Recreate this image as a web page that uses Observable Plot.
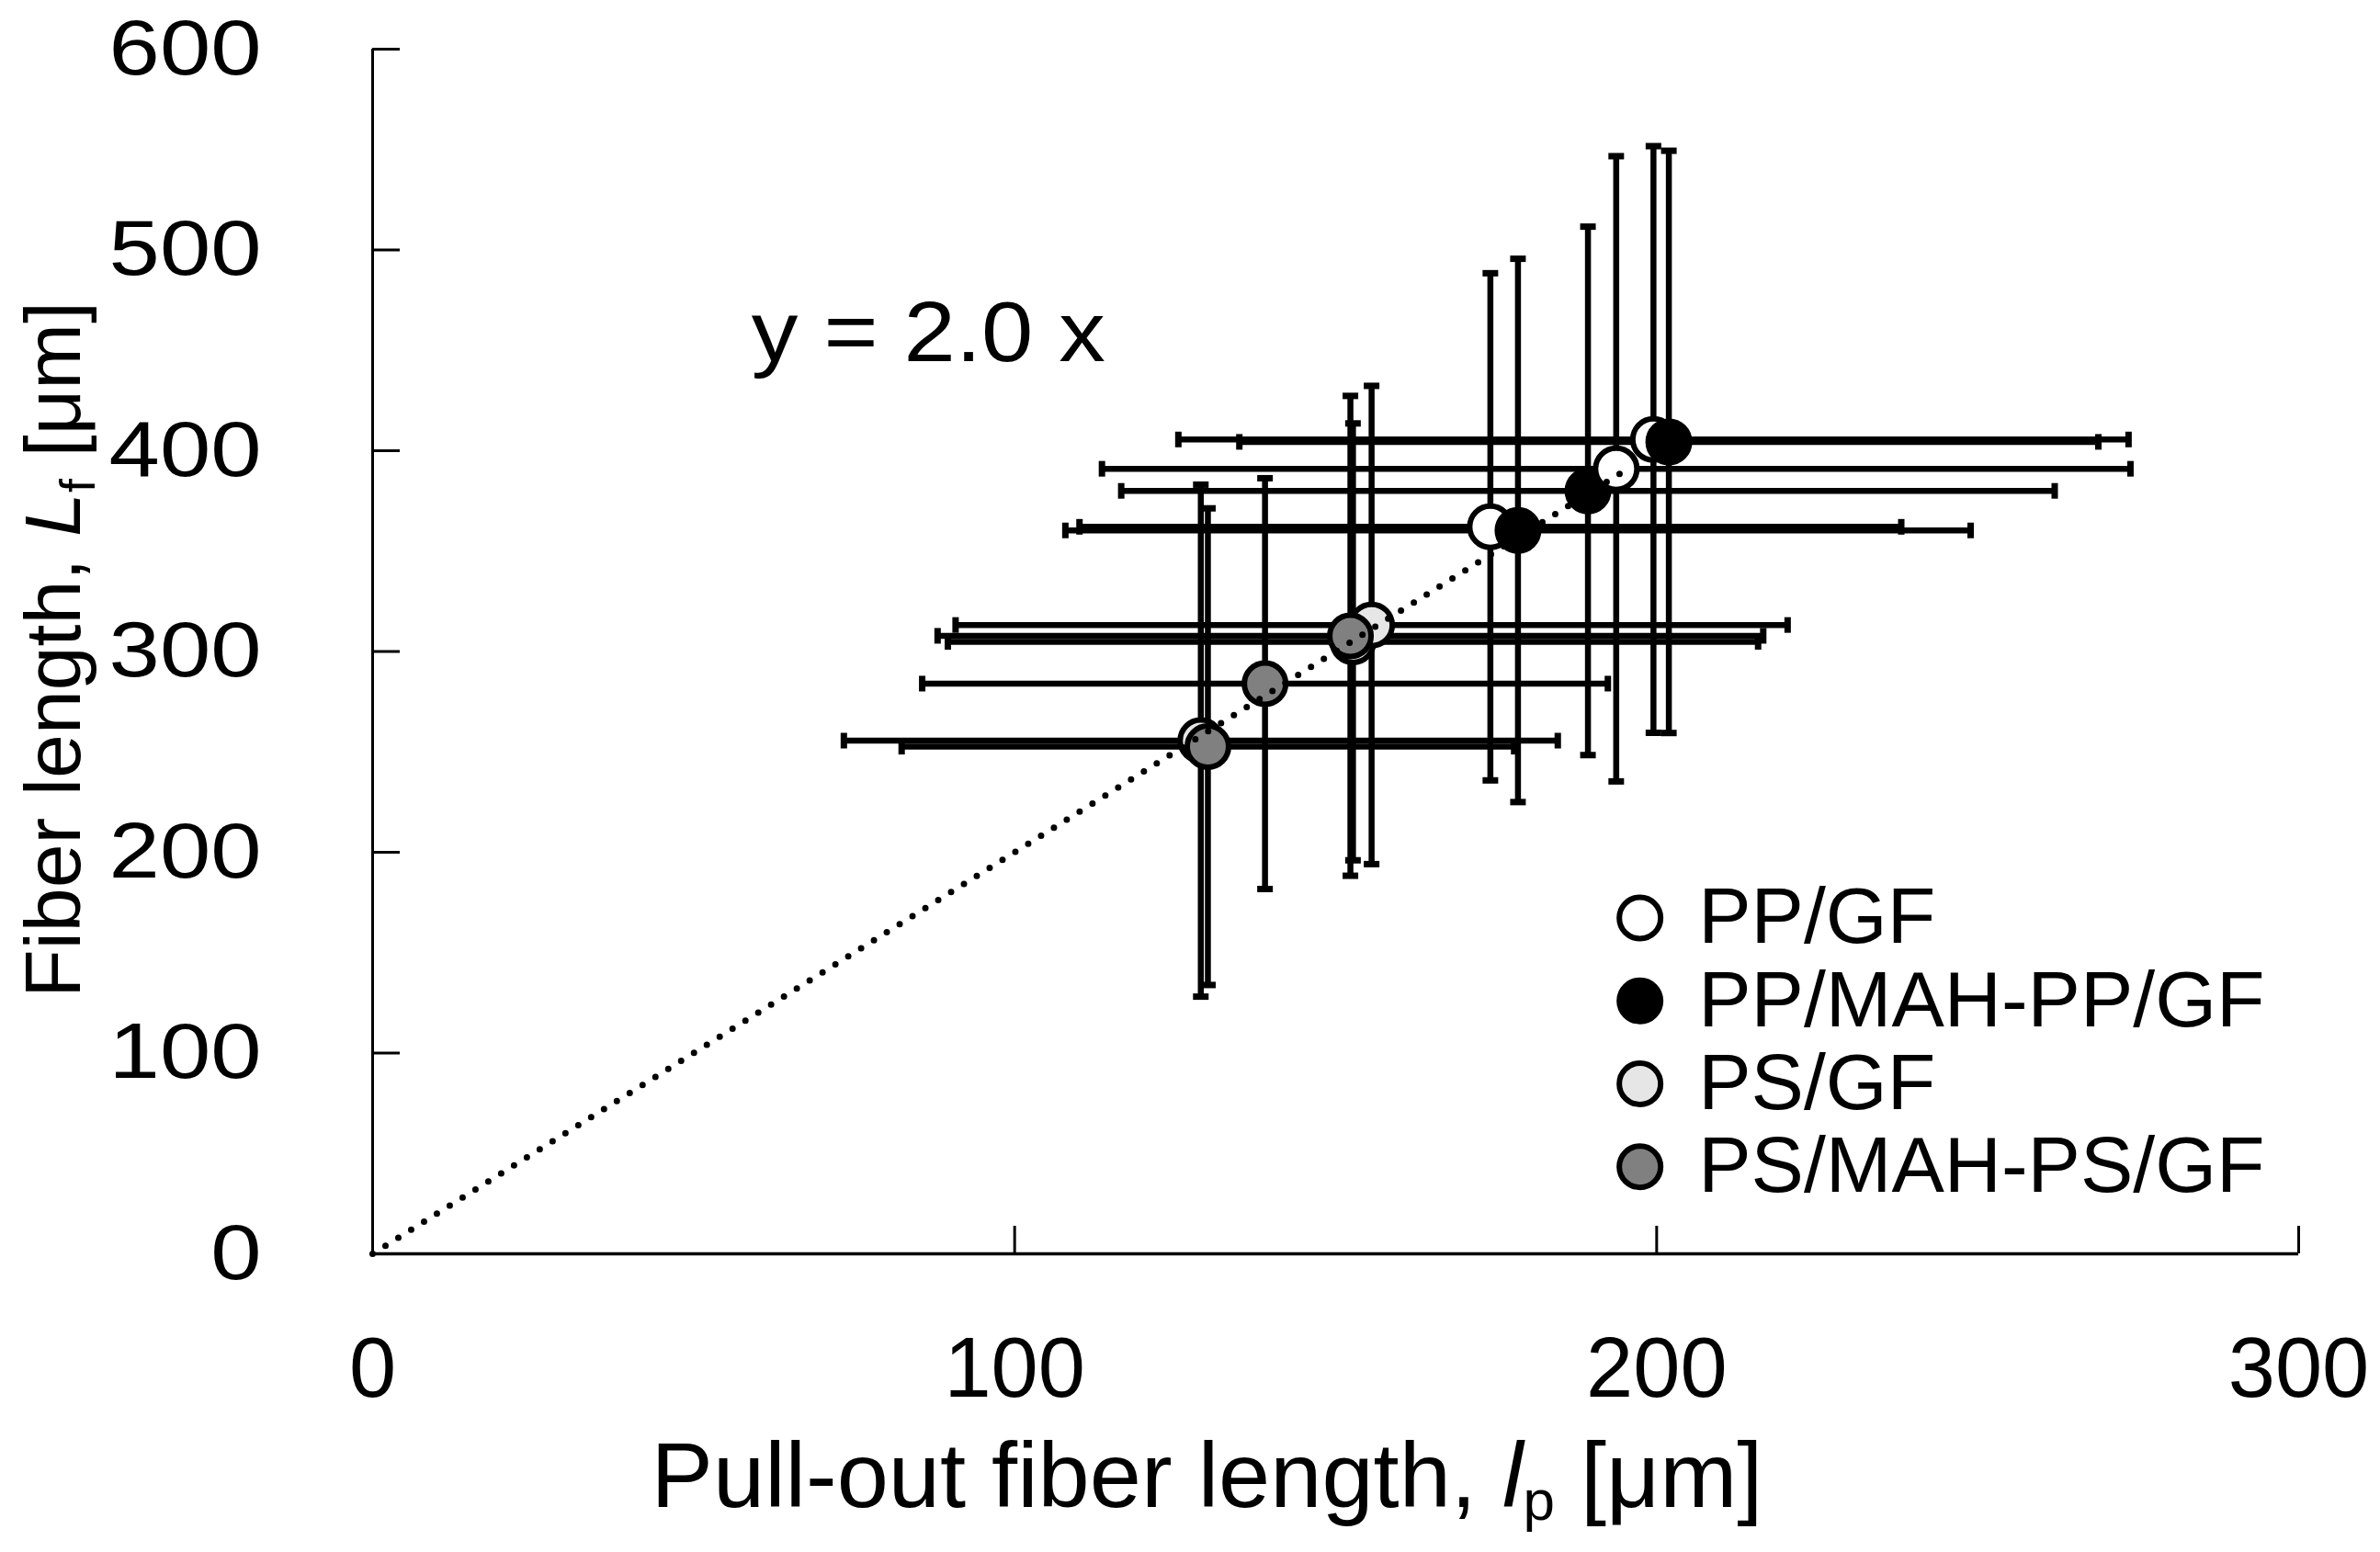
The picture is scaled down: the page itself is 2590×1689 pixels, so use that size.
<!DOCTYPE html>
<html><head><meta charset="utf-8">
<script src="https://cdn.jsdelivr.net/npm/d3@7"></script>
<script src="https://cdn.jsdelivr.net/npm/@observablehq/plot@0.6"></script>
<style>html,body{margin:0;padding:0;background:#fff;} svg{display:block}</style>
</head><body><div id="chart"></div>
<script>
// ---------- data ----------
const seriesNames = ["PP/GF", "PP/MAH-PP/GF", "PS/GF", "PS/MAH-PS/GF"];
const seriesFill  = ["#ffffff", "#000000", "#e6e6e6", "#808080"];

const ppgfX  = [174.1, 193.7, 199.5];
const ppgfY  = [362.1, 391.0, 405.6];
const ppgfXe = [64.0, 80.1, 74.0];
const ppgfYe = [126.3, 155.7, 146.1];

const ppmahX  = [178.4, 189.3, 201.9];
const ppmahY  = [360.3, 380.0, 404.4];
const ppmahXe = [70.5, 72.7, 66.9];
const ppmahYe = [135.3, 131.6, 145.0];

const psgfX  = [129.0, 152.7, 155.6];
const psgfY  = [255.6, 304.8, 313.2];
const psgfXe = [55.6, 63.1, 64.8];
const psgfYe = [127.5, 108.8, 119.1];

const psmahX  = [130.1, 139.0, 152.3];
const psmahY  = [252.6, 284.0, 307.8];
const psmahXe = [47.7, 53.4, 64.3];
const psmahYe = [118.7, 102.3, 119.5];

const xTicks = [0, 100, 200, 300];
const yTicks = [0, 100, 200, 300, 400, 500, 600];
const trendX = [0, 196];
const trendY = [0, 392];
const equationText = "y = 2.0 x";
const xTitle = "Pull-out fiber length, lp [μm]";
const yTitle = "Fiber length, Lf [μm]";

// drawing order of the markers: [series, point]
const drawOrder = [[2,0],[2,1],[2,2],[3,0],[3,1],[3,2],[0,0],[1,0],[1,1],[0,1],[0,2],[1,2]];

// ---------- build tables ----------
const cols = [
  [ppgfX, ppgfY, ppgfXe, ppgfYe],
  [ppmahX, ppmahY, ppmahXe, ppmahYe],
  [psgfX, psgfY, psgfXe, psgfYe],
  [psmahX, psmahY, psmahXe, psmahYe]
];
const points = drawOrder.map(([s, i]) => ({
  series: seriesNames[s], fill: seriesFill[s],
  x: cols[s][0][i], y: cols[s][1][i], xe: cols[s][2][i], ye: cols[s][3][i]
}));
const vCaps = points.flatMap(d => [{x: d.x, y: d.y - d.ye}, {x: d.x, y: d.y + d.ye}]);
const hCaps = points.flatMap(d => [{x: d.x - d.xe, y: d.y}, {x: d.x + d.xe, y: d.y}]);
const trend = trendX.map((x, i) => ({x, y: trendY[i]}));
const legend = seriesNames.map((name, i) => ({name, fill: seriesFill[i], i}));

// legend / annotation placement (in data units)
const legendDotX = 197.4, legendTextX = 206.5, legendTopY = 167.3, legendStepY = 41.3;
const eqX = 59, eqY = 458;

const hSeg = {draw(ctx, size) { const r = Math.sqrt(size / Math.PI); ctx.moveTo(-r, 0); ctx.lineTo(r, 0); }};
const vSeg = {draw(ctx, size) { const r = Math.sqrt(size / Math.PI); ctx.moveTo(0, -r); ctx.lineTo(0, r); }};

const chart = Plot.plot({
  width: 2590, height: 1689,
  marginLeft: 405, marginRight: 89, marginTop: 53, marginBottom: 325,
  x: {domain: [0, 300]},
  y: {domain: [0, 600]},
  color: {type: "identity"},
  style: {fontFamily: "'Liberation Sans', Arial, sans-serif", background: "#fff", color: "#000"},
  marks: [
    // axis lines
    Plot.ruleX([0], {stroke: "#000", strokeWidth: 3}),
    Plot.ruleY([0], {stroke: "#000", strokeWidth: 3.5}),
    // inward ticks
    Plot.axisX({ticks: xTicks, tickSize: 30, dy: -30, tickFormat: () => "", label: null, strokeWidth: 3}),
    Plot.axisY({ticks: yTicks, tickSize: 30, dx: 30, tickFormat: () => "", label: null, strokeWidth: 3}),
    // tick labels
    Plot.axisX({ticks: xTicks, tickSize: 0, tickPadding: 90, fontSize: 92, label: null}),
    Plot.axisY({ticks: yTicks, tickSize: 0, tickPadding: 121, fontSize: 85, label: null}),
    // error bars
    Plot.ruleX(points, {x: "x", y1: d => d.y - d.ye, y2: d => d.y + d.ye, stroke: "#000", strokeWidth: 6.5}),
    Plot.ruleY(points, {y: "y", x1: d => d.x - d.xe, x2: d => d.x + d.xe, stroke: "#000", strokeWidth: 6.5}),
    Plot.dot(vCaps, {x: "x", y: "y", symbol: hSeg, r: 8.5, stroke: "#000", strokeWidth: 7, fill: "none"}),
    Plot.dot(hCaps, {x: "x", y: "y", symbol: vSeg, r: 8.5, stroke: "#000", strokeWidth: 7, fill: "none"}),
    // markers
    Plot.dot(points, {x: "x", y: "y", r: 22.5, fill: "fill", stroke: "#000", strokeWidth: 6}),
    // trend line y = 2.0 x
    Plot.line(trend, {x: "x", y: "y", stroke: "#000", strokeWidth: 7, strokeDasharray: "0 16.5", strokeLinecap: "round"}),
    Plot.text([equationText], {text: d => d, x: eqX, y: eqY, textAnchor: "start", fontSize: 92}),
    // legend
    Plot.dot(legend, {x: () => legendDotX, y: d => legendTopY - d.i * legendStepY, r: 22.5, fill: "fill", stroke: "#000", strokeWidth: 6}),
    Plot.text(legend, {x: () => legendTextX, y: d => legendTopY - d.i * legendStepY, text: "name", textAnchor: "start", fontSize: 86}),
    // axis titles
    Plot.text([xTitle], {text: d => d, frameAnchor: "bottom", textAnchor: "middle", dx: -140, dy: 204, lineAnchor: "top", fontSize: 101}),
    Plot.text([yTitle], {text: d => d, frameAnchor: "left", textAnchor: "middle", dx: -380, dy: -2, rotate: -90, lineAnchor: "top", fontSize: 86})
  ]
});
document.getElementById("chart").appendChild(chart);

// ---------- text styling ----------
const svg = d3.select(chart);
const byText = s => svg.selectAll("text").filter(function() { return this.textContent === s; });
function stretch(sel, sx) {
  sel.each(function() {
    const t = this.getAttribute("transform") || "";
    this.setAttribute("transform", t + ` scale(${sx},1)`);
  });
}
stretch(svg.selectAll('g[aria-label="y-axis tick label"] text'), 1.17);
stretch(byText(equationText), 1.1);

function rich(str, parts, subSize, shift) {
  const t = byText(str);
  t.text(null);
  parts.forEach(p => {
    const ts = t.append("tspan").text(p.text);
    if (p.italic) ts.attr("font-style", "italic");
    if (p.sub) ts.attr("font-size", subSize).attr("dy", shift);
    if (p.back) ts.attr("dy", -shift);
  });
}
rich(xTitle, [{text: "Pull-out fiber length, "}, {text: "l", italic: true}, {text: "p", sub: true}, {text: " [μm]", back: true}], 62, 14);
rich(yTitle, [{text: "Fiber length, "}, {text: "L", italic: true}, {text: "f", sub: true}, {text: " [μm]", back: true}], 54, 16);
</script>
</body></html>
